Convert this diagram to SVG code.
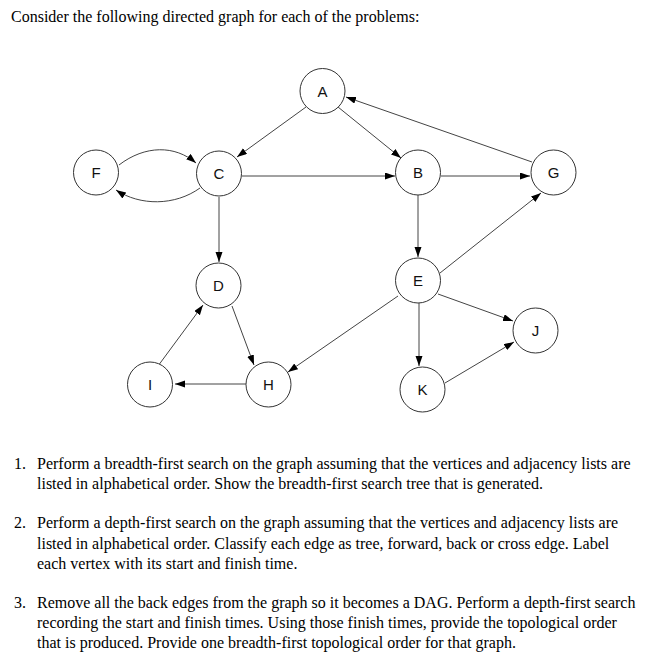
<svg xmlns="http://www.w3.org/2000/svg" width="657" height="658" viewBox="0 0 657 658">
<defs>
<marker id="ah" markerUnits="userSpaceOnUse" markerWidth="11" markerHeight="8" refX="10" refY="3.5" orient="auto">
<path d="M0,0 L10,3.5 L0,7 z" fill="#000"/>
</marker>
<style>
.n circle{fill:#fff;stroke:#333;stroke-width:1}
.n text{font-family:"Liberation Sans",Arial,sans-serif;font-size:15px;fill:#111;text-anchor:middle}
.e path,.e line{fill:none;stroke:#444;stroke-width:1;marker-end:url(#ah)}
.t{font-family:"Liberation Serif","Times New Roman",serif;font-size:16px;fill:#000}
</style>
</defs>
<rect width="657" height="658" fill="#fff"/>
<text class="t" x="11" y="22">Consider the following directed graph for each of the problems:</text>
<g class="e" id="edges">
<line x1="306" y1="107" x2="237" y2="157"/>
<line x1="338" y1="107" x2="401" y2="158"/>
<line x1="532" y1="162" x2="346" y2="97"/>
<line x1="242" y1="176" x2="395" y2="176"/>
<line x1="441" y1="176" x2="530" y2="176"/>
<path d="M119,165 C145,145 175,145 196,163"/>
<path d="M200,188 C175,206 140,206 116,190"/>
<line x1="219" y1="197" x2="219" y2="262"/>
<line x1="418" y1="195" x2="418" y2="257"/>
<line x1="440" y1="273" x2="541" y2="193"/>
<line x1="398" y1="296" x2="288" y2="372"/>
<line x1="438" y1="294" x2="513" y2="321"/>
<line x1="419" y1="303" x2="419" y2="366"/>
<line x1="445" y1="383" x2="514" y2="342"/>
<line x1="232" y1="306" x2="254" y2="365"/>
<line x1="246" y1="384" x2="175" y2="384"/>
<line x1="158" y1="366" x2="203" y2="305"/>
</g>
<g class="n" id="A"><circle cx="322.5" cy="91" r="22.5"/><text x="322.5" y="96.5">A</text></g>
<g class="n" id="F"><circle cx="96" cy="172.5" r="22.5"/><text x="96" y="178">F</text></g>
<g class="n" id="C"><circle cx="219" cy="173.5" r="22.5"/><text x="219" y="179">C</text></g>
<g class="n" id="B"><circle cx="418" cy="172.5" r="22.5"/><text x="418" y="178">B</text></g>
<g class="n" id="G"><circle cx="553.5" cy="172.5" r="22.5"/><text x="553.5" y="178">G</text></g>
<g class="n" id="D"><circle cx="218.5" cy="285.5" r="22.5"/><text x="218.5" y="291">D</text></g>
<g class="n" id="E"><circle cx="418" cy="280.5" r="22.5"/><text x="418" y="286">E</text></g>
<g class="n" id="J"><circle cx="535.5" cy="330.5" r="22.5"/><text x="535.5" y="336">J</text></g>
<g class="n" id="I"><circle cx="150" cy="384.5" r="22.5"/><text x="150" y="390">I</text></g>
<g class="n" id="H"><circle cx="268.5" cy="384.5" r="22.5"/><text x="268.5" y="390">H</text></g>
<g class="n" id="K"><circle cx="422.5" cy="389.5" r="22.5"/><text x="422.5" y="395">K</text></g>
<g id="questions">
<text class="t" x="14" y="469">1.</text>
<text class="t" x="37" y="469">Perform a breadth-first search on the graph assuming that the vertices and adjacency lists are</text>
<text class="t" x="37" y="489">listed in alphabetical order. Show the breadth-first search tree that is generated.</text>
<text class="t" x="14" y="528">2.</text>
<text class="t" x="37" y="528">Perform a depth-first search on the graph assuming that the vertices and adjacency lists are</text>
<text class="t" x="37" y="549">listed in alphabetical order. Classify each edge as tree, forward, back or cross edge. Label</text>
<text class="t" x="37" y="569">each vertex with its start and finish time.</text>
<text class="t" x="14" y="608">3.</text>
<text class="t" x="37" y="608">Remove all the back edges from the graph so it becomes a DAG. Perform a depth-first search</text>
<text class="t" x="37" y="628">recording the start and finish times. Using those finish times, provide the topological order</text>
<text class="t" x="37" y="648">that is produced. Provide one breadth-first topological order for that graph.</text>
</g>
</svg>
